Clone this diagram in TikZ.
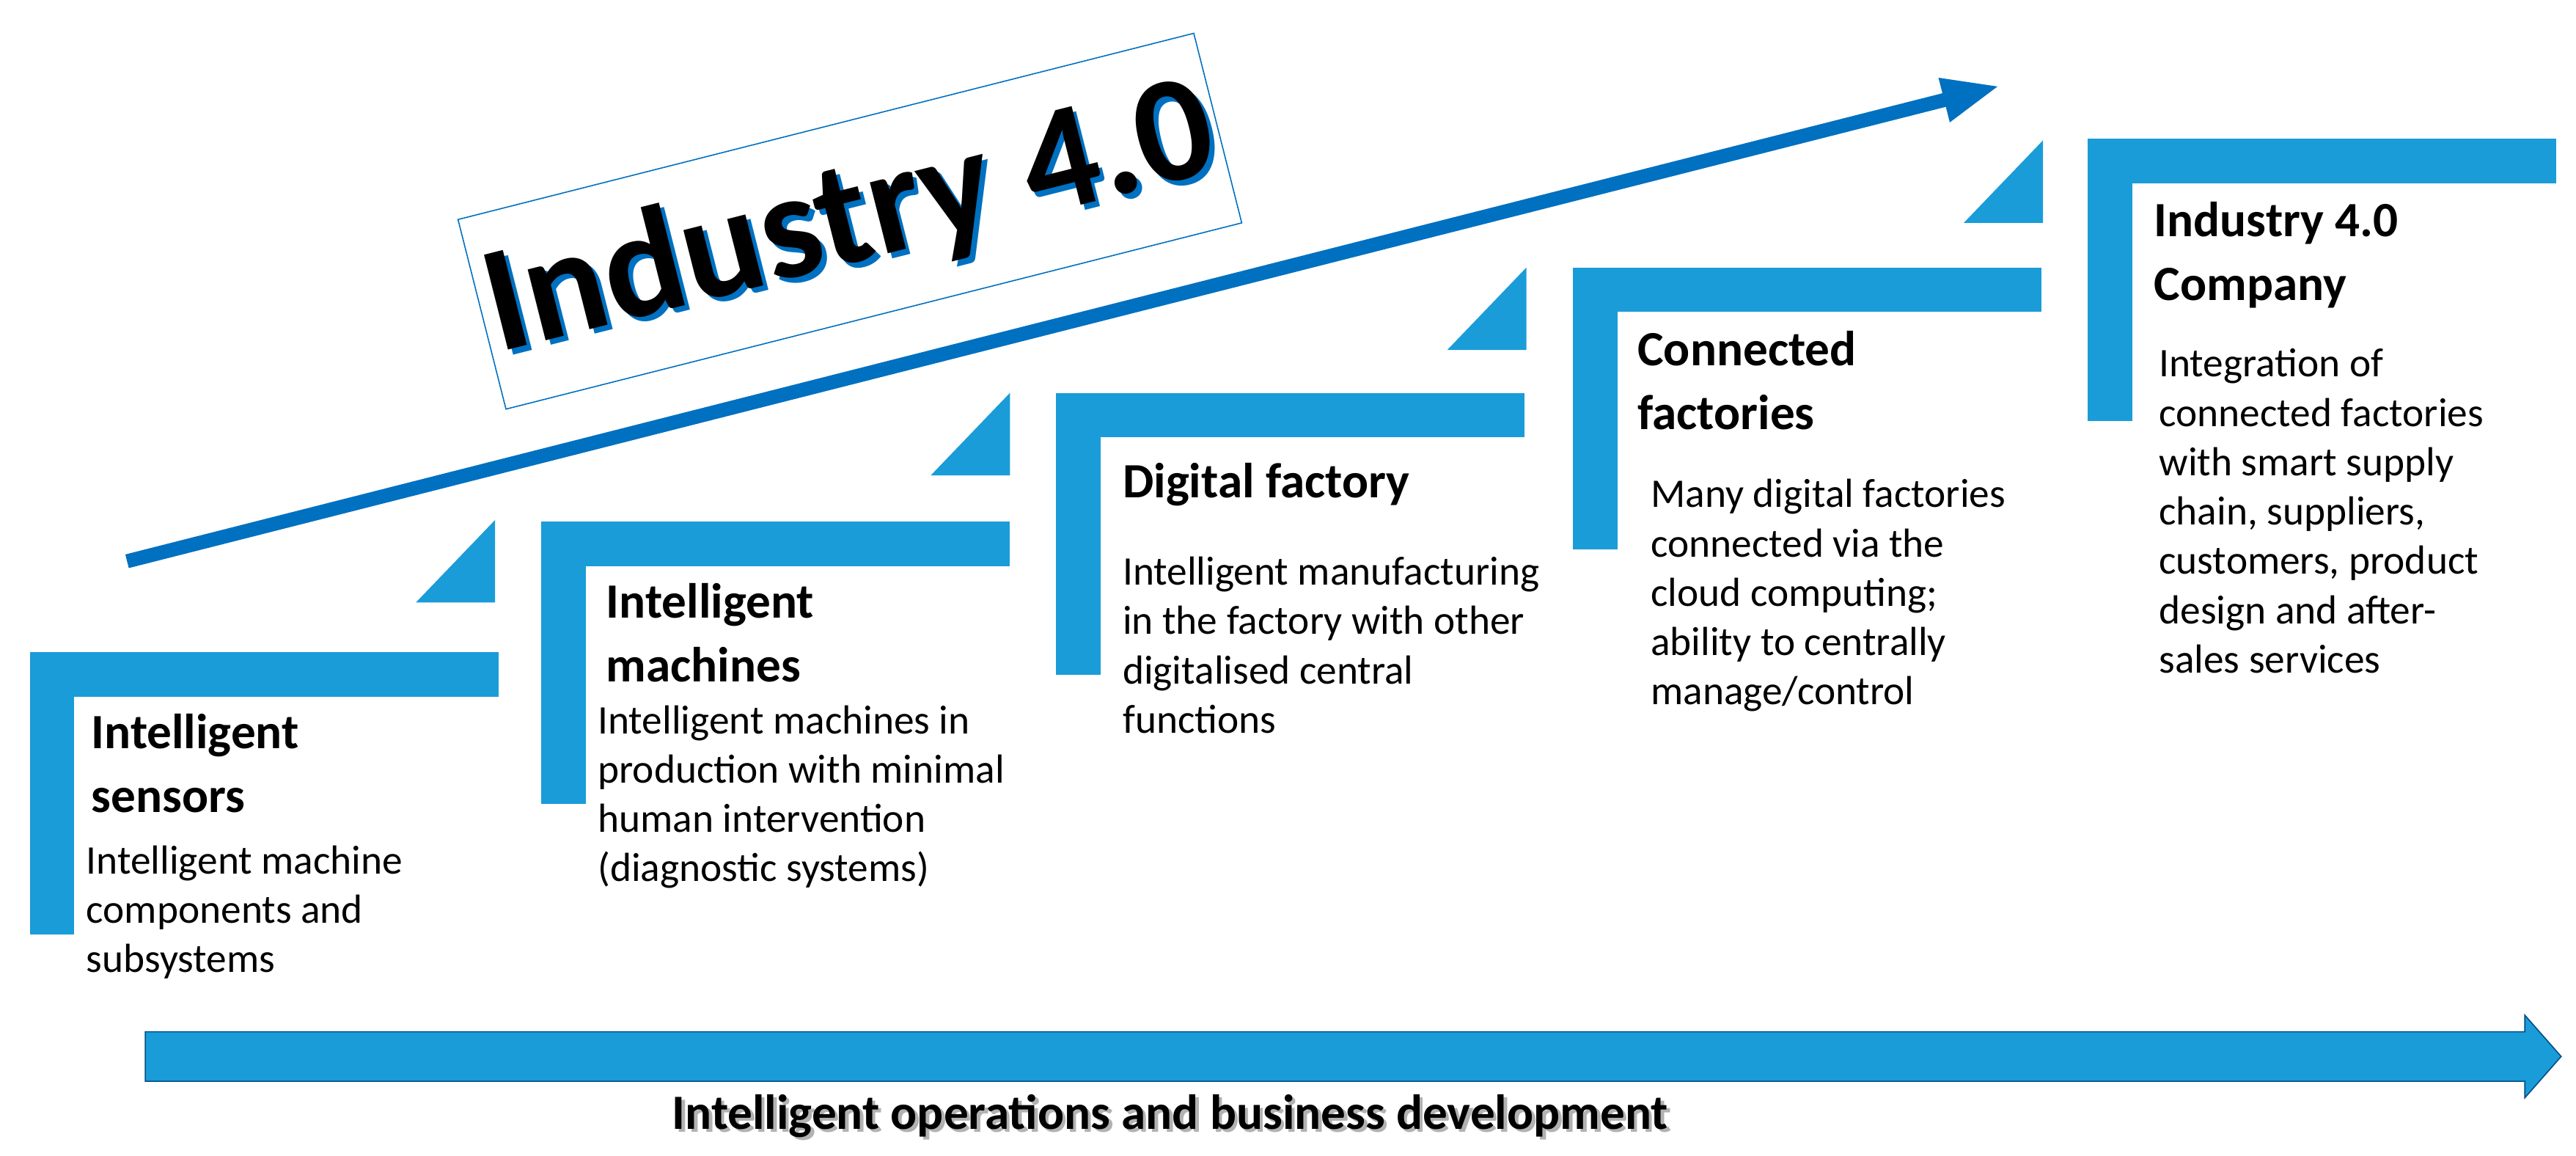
\documentclass[tikz,border=0pt]{standalone}
\usepackage{fontspec}
\setmainfont{Carlito}
\usetikzlibrary{arrows.meta}
\definecolor{stepblue}{HTML}{1A9CD8}
\definecolor{darkblue}{HTML}{0070C0}
\tikzset{
  bar/.style={fill=stepblue, draw=none},
  head/.style={anchor=north west, align=left, inner sep=0pt, font=\fontsize{17}{22}\selectfont\bfseries},
  body/.style={anchor=north west, align=left, inner sep=0pt, font=\fontsize{14}{17}\selectfont}
}
\begin{document}
\begin{tikzpicture}[x=0.02cm, y=-0.02cm]
\useasboundingbox (0,0) rectangle (1561,700);
% steps
\foreach \x/\y in {18/395, 328/316, 640/238, 953/162, 1265/84}{
  \fill[stepblue] (\x,\y) rectangle ++(284,27);
  \fill[stepblue] (\x,\y) rectangle ++(27,171);
}
\foreach \x/\y in {300/365, 612/288, 925/212, 1238/135}{
  \fill[stepblue] (\x,\y) -- ++(-48,0) -- ++(48,-50) -- cycle;
}
% diagonal arrow
\coordinate (ds) at (77,340);
\coordinate (de) at (1212,52);
\draw[darkblue, line width=1.7mm, -{Triangle[length=7mm,width=5mm]}] (ds) -- (de);
% title
\node[draw=darkblue, line width=0.4pt, rotate=14.2, minimum width=9.2cm, minimum height=2.37cm, inner sep=0pt] (title) at (515,134) {};
\node[rotate=14.2, text=darkblue, font=\fontsize{52}{52}\selectfont\bfseries] at (518,137) {Industry 4.0};
\node[rotate=14.2, text=black, font=\fontsize{52}{52}\selectfont\bfseries] (titletext) at (515,134) {Industry 4.0};
% bottom arrow
\coordinate (bs) at (88,640);
\coordinate (be) at (1552,640);
\draw[fill=stepblue, draw=darkblue!70!black, line width=0.4pt] (88,625) -- (1530,625) -- (1530,615) -- (1552,640) -- (1530,665) -- (1530,655) -- (88,655) -- cycle;
\node[text=gray!60, font=\fontsize{17}{20}\selectfont\bfseries] at (711,678) {Intelligent operations and business development};
\node[font=\fontsize{17}{20}\selectfont\bfseries] (bl) at (709,676) {Intelligent operations and business development};
% texts
\node[head] (h1) at (55,432) {Intelligent\\sensors};
\node[body] (b1) at (52,512) {Intelligent machine\\components and\\subsystems};
\node[head] (h2) at (367,353) {Intelligent\\machines};
\node[body] (b2) at (362,427) {Intelligent machines in\\production with minimal\\human intervention\\(diagnostic systems)};
\node[head] (h3) at (680,280) {Digital factory};
\node[body] (b3) at (680,337) {Intelligent manufacturing\\in the factory with other\\digitalised central\\functions};
\node[head] (h4) at (992,200) {Connected\\factories};
\node[body] (b4) at (1000,290) {Many digital factories\\connected via the\\cloud computing;\\ability to centrally\\manage/control};
\node[head] (h5) at (1305,122) {Industry 4.0\\Company};
\node[body] (b5) at (1308,211) {Integration of\\connected factories\\with smart supply\\chain, suppliers,\\customers, product\\design and after-\\sales services};
\end{tikzpicture}
\end{document}
